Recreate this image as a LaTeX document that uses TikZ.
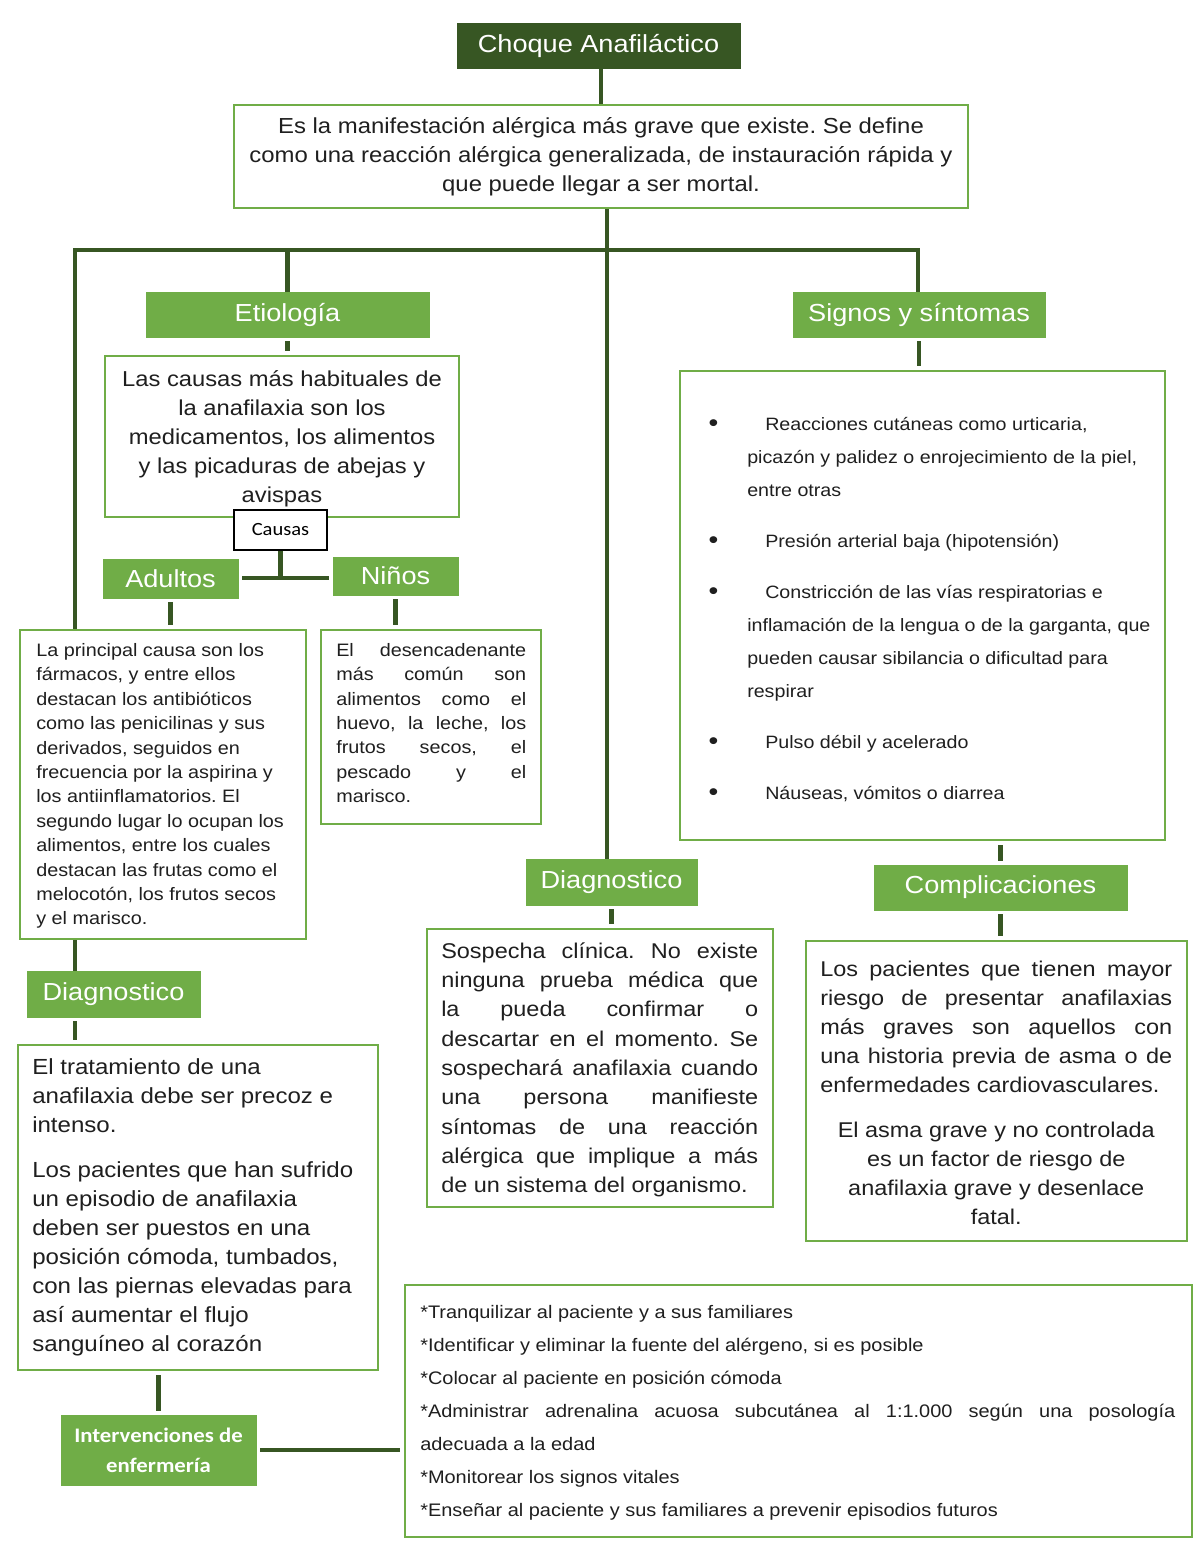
\documentclass[tikz,border=0pt]{standalone}
\usepackage{fontspec}
\setmainfont{Liberation Sans}[FakeStretch=1.1]
\newfontfamily\calfont{Carlito}[FakeStretch=1.1]
\definecolor{dkg}{HTML}{375623}
\definecolor{grn}{HTML}{70AD47}
\newcommand{\fs}[2]{\fontsize{#1}{#2}\selectfont}
\newcommand{\jline}[2]{\makebox[#1][s]{#2}}
\newcommand{\bul}{\llap{\raisebox{-0.6pt}{\fontsize{19pt}{19pt}\selectfont\textbullet}\hspace{21.75pt}}\hspace*{13.5pt}}
\frenchspacing
\begin{document}
\begin{tikzpicture}[x=0.75pt,y=-0.75pt,
  conn/.style={draw=dkg,line width=3.2pt},
  gap/.style={shorten <=3pt,shorten >=3pt},
  hdr/.style={fill=grn,draw=grn,text=white,inner sep=0,font=\fs{18.5pt}{22pt}},
  tbox/.style={draw=grn,line width=1.8pt,fill=white,inner sep=0},
  txt/.style={inner sep=0,text=black!88},
]
\useasboundingbox (0,0) rectangle (1200,1553);

% title and definition
\node[fill=dkg,draw=dkg,text=white,inner sep=0,font=\fs{18.5pt}{22pt},minimum width=212.25pt,minimum height=33.75pt] (title) at (598.5,45.5) {Choque Anafiláctico};
\node[tbox,minimum width=550.5pt,minimum height=77.25pt] (def) at (601,156.5) {};
\node[txt,align=center,font=\fs{16.3pt}{21.75pt}] (deftx) at (601,157) {Es la manifestación alérgica más grave que existe. Se define\\como una reacción alérgica generalizada, de instauración rápida y\\que puede llegar a ser mortal.};

% headers
\node[hdr,minimum width=212.25pt,minimum height=33.75pt] (etio) at (287.5,314.5) {Etiología};
\node[hdr,minimum width=189pt,minimum height=33.75pt] (signos) at (919,314.5) {Signos y síntomas};
\node[hdr,minimum width=101.25pt,minimum height=29.25pt] (adultos) at (170.5,578.5) {Adultos};
\node[hdr,minimum width=93.75pt,minimum height=28.5pt] (ninos) at (395.5,576) {Niños};
\node[hdr,minimum width=129.75pt,minimum height=34.5pt] (diagL) at (113.5,994) {Diagnostico};
\node[hdr,minimum width=128.25pt,minimum height=34.5pt] (middiag) at (611.5,882) {Diagnostico};
\node[hdr,minimum width=189.75pt,minimum height=33.75pt] (compl) at (1000.5,887.5) {Complicaciones};
\node[hdr,minimum width=146.25pt,minimum height=52.5pt,align=center,font=\calfont\bfseries\fs{15.5pt}{22.5pt}] (interv) at (158.5,1450) {Intervenciones de\\enfermería};

% text boxes
\node[tbox,minimum width=265.5pt,minimum height=120.75pt] (causes) at (282,436.5) {};
\node[txt,align=center,font=\fs{16.2pt}{21.75pt}] (causestx) at (282,439) {Las causas más habituales de\\la anafilaxia son los\\medicamentos, los alimentos\\y las picaduras de abejas y\\avispas};

\node[tbox,minimum width=214.5pt,minimum height=231.75pt] (adtext) at (163,784.5) {};
\node[txt,anchor=west,align=left,font=\fs{13.5pt}{18.3pt}] (adtx) at (36,786) {La principal causa son los\\fármacos, y entre ellos\\destacan los antibióticos\\como las penicilinas y sus\\derivados, seguidos en\\frecuencia por la aspirina y\\los antiinflamatorios. El\\segundo lugar lo ocupan los\\alimentos, entre los cuales\\destacan las frutas como el\\melocotón, los frutos secos\\y el marisco.};

\node[tbox,minimum width=165pt,minimum height=145.5pt] (nitext) at (431,727) {};
\node[txt,anchor=west,align=left,font=\fs{13.5pt}{18.3pt}] (nitx) at (336,723) {\jline{142.5pt}{El desencadenante}\\\jline{142.5pt}{más común son}\\\jline{142.5pt}{alimentos como el}\\\jline{142.5pt}{huevo, la leche, los}\\\jline{142.5pt}{frutos secos, el}\\\jline{142.5pt}{pescado y el}\\marisco.};

\node[tbox,minimum width=270pt,minimum height=243.75pt] (trat) at (198,1207.5) {};
\node[txt,anchor=west,align=left,font=\fs{16.4pt}{21.75pt}] (trtx) at (32,1207) {El tratamiento de una\\anafilaxia debe ser precoz e\\intenso.\\[12pt]Los pacientes que han sufrido\\un episodio de anafilaxia\\deben ser puestos en una\\posición cómoda, tumbados,\\con las piernas elevadas para\\así aumentar el flujo\\sanguíneo al corazón};

\node[tbox,minimum width=259.5pt,minimum height=208.5pt] (mdtext) at (600,1068) {};
\node[txt,anchor=west,align=left,font=\fs{16pt}{22pt}] (mdtx) at (441,1070) {\jline{237.75pt}{Sospecha clínica. No existe}\\\jline{237.75pt}{ninguna prueba médica que}\\\jline{237.75pt}{la pueda confirmar o}\\\jline{237.75pt}{descartar en el momento. Se}\\\jline{237.75pt}{sospechará anafilaxia cuando}\\\jline{237.75pt}{una persona manifieste}\\\jline{237.75pt}{síntomas de una reacción}\\\jline{237.75pt}{alérgica que implique a más}\\de un sistema del organismo.};

\node[tbox,minimum width=363.75pt,minimum height=351.75pt] (sgtext) at (922.5,605.5) {};
\node[txt,anchor=west,align=left,font=\fs{13.4pt}{24.75pt}] (sgtx) at (747,610) {\bul Reacciones cutáneas como urticaria,\\picazón y palidez o enrojecimiento de la piel,\\entre otras\\[13.5pt]\bul Presión arterial baja (hipotensión)\\[13.5pt]\bul Constricción de las vías respiratorias e\\inflamación de la lengua o de la garganta, que\\pueden causar sibilancia o dificultad para\\respirar\\[13.5pt]\bul Pulso débil y acelerado\\[13.5pt]\bul Náuseas, vómitos o diarrea};

\node[tbox,minimum width=285.75pt,minimum height=225pt] (cptext) at (996.5,1091) {};
\node[txt,anchor=west,align=left,font=\fs{16pt}{21.75pt}] (cptx) at (820,1093) {\jline{264pt}{Los pacientes que tienen mayor}\\\jline{264pt}{riesgo de presentar anafilaxias}\\\jline{264pt}{más graves son aquellos con}\\\jline{264pt}{una historia previa de asma o de}\\enfermedades cardiovasculares.\\[12pt]\makebox[264pt][c]{El asma grave y no controlada}\\\makebox[264pt][c]{es un factor de riesgo de}\\\makebox[264pt][c]{anafilaxia grave y desenlace}\\\makebox[264pt][c]{fatal.}};

\node[tbox,minimum width=590.25pt,minimum height=189pt] (intlist) at (798.5,1411) {};
\node[txt,anchor=west,align=left,font=\fs{13.6pt}{24.75pt}] (iltx) at (420,1413) {*Tranquilizar al paciente y a sus familiares\\*Identificar y eliminar la fuente del alérgeno, si es posible\\*Colocar al paciente en posición cómoda\\\jline{566.25pt}{*Administrar adrenalina acuosa subcutánea al 1:1.000 según una posología}\\adecuada a la edad\\*Monitorear los signos vitales\\*Enseñar al paciente y sus familiares a prevenir episodios futuros};

% connectors
\coordinate (busL) at (75,250);
\coordinate (busR) at (918,250);
\coordinate (busC) at (607,250);
\coordinate (cj) at (280.5,578);
\draw[conn] (title.south -| def.north) -- (def.north);
\draw[conn] (busC |- def.south) -- (busC |- middiag.north);
\draw[conn] (busL |- adtext.north) -- (busL) -- (busR) -- (busR |- signos.north);
\draw[conn] (etio.north) -- (etio.north |- busL);
\draw[conn,gap] (etio.south) -- (etio.south |- causes.north);
\draw[conn,gap] (signos.south) -- (signos.south |- sgtext.north);
\draw[conn,gap] (compl.north |- sgtext.south) -- (compl.north);
\draw[conn,gap] (compl.south) -- (compl.south |- cptext.north);
\draw[conn,gap] (middiag.south) -- (middiag.south |- mdtext.north);
\draw[conn,gap] (adultos.east |- cj) -- (ninos.west |- cj);
\draw[conn,gap] (adultos.south) -- (adultos.south |- adtext.north);
\draw[conn,gap] (ninos.south) -- (ninos.south |- nitext.north);
\draw[conn] (busL |- adtext.south) -- (busL |- diagL.north);
\draw[conn,gap] (busL |- diagL.south) -- (busL |- trat.north);
\draw[conn,gap] (trat.south -| interv.north) -- (interv.north);
\draw[conn,gap] (interv.east) -- (interv.east -| intlist.west);

% Causas label
\node[draw=black,line width=1pt,fill=white,inner sep=0,minimum width=69.75pt,minimum height=30pt,font=\calfont\fs{14pt}{16pt}] (causas) at (280.5,530) {Causas};
\draw[conn] (causas.south) -- (cj);
\end{tikzpicture}
\end{document}
